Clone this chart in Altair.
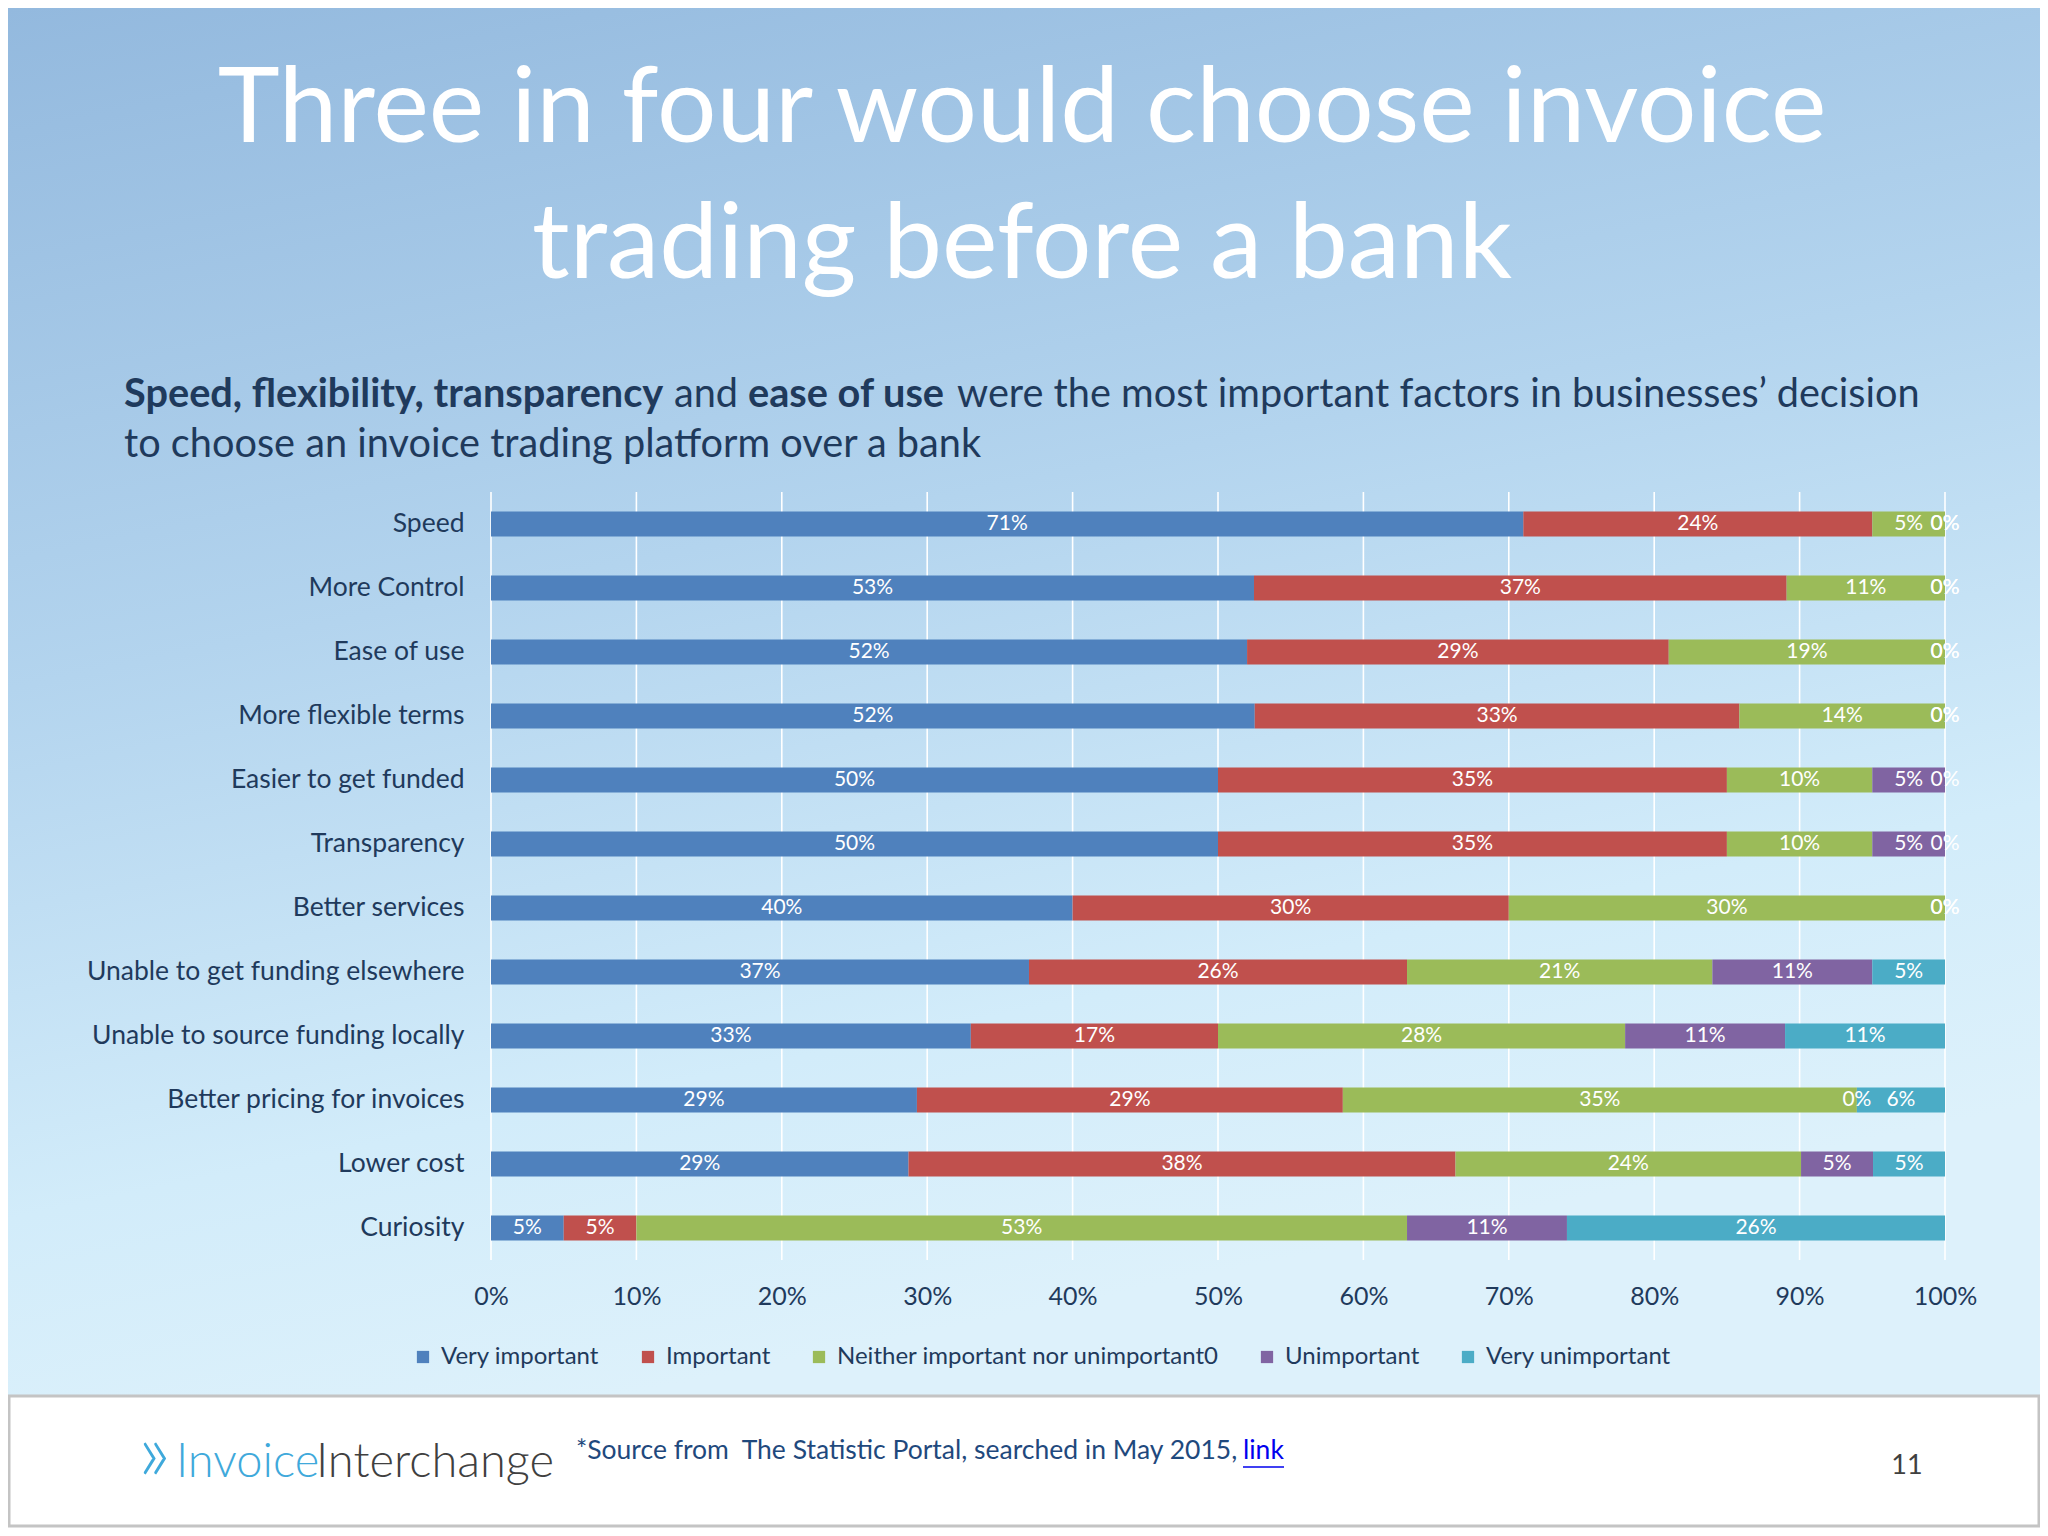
import altair as alt
import pandas as pd

# ---------------- data ----------------
categories = [
    "Speed", "More Control", "Ease of use", "More flexible terms",
    "Easier to get funded", "Transparency", "Better services",
    "Unable to get funding elsewhere", "Unable to source funding locally",
    "Better pricing for invoices", "Lower cost", "Curiosity",
]
series = [
    "Very important", "Important", "Neither important nor unimportant0",
    "Unimportant", "Very unimportant",
]
very_important   = [71, 53, 52, 52, 50, 50, 40, 37, 33, 29, 29, 5]
important        = [24, 37, 29, 33, 35, 35, 30, 26, 17, 29, 38, 5]
neither          = [5, 11, 19, 14, 10, 10, 30, 21, 28, 35, 24, 53]
unimportant      = [0, 0, 0, 0, 5, 5, 0, 11, 11, 0, 5, 11]
very_unimportant = [0, 0, 0, 0, 0, 0, 0, 5, 11, 6, 5, 26]
x_ticks = [0, 0.1, 0.2, 0.3, 0.4, 0.5, 0.6, 0.7, 0.8, 0.9, 1.0]

colors = ["#4F81BD", "#C0504D", "#9BBB59", "#8064A2", "#4BACC6"]

title_lines = ["Three in four would choose invoice", "trading before a bank"]
subtitle_pieces = [
    ("Speed, flexibility, transparency", "bold"),
    ("and", "normal"),
    ("ease of use", "bold"),
    ("were the most important factors in businesses\u2019 decision", "normal"),
]
subtitle_line2 = "to choose an invoice trading platform over a bank"
source_text = "*Source from\u00a0 The Statistic Portal, searched in May 2015,"
link_text = "link"
page_number = "11"

# ---------------- build table ----------------
values_by_series = [very_important, important, neither, unimportant, very_unimportant]
rows = []
for si, (s, vals) in enumerate(zip(series, values_by_series)):
    for c, v in zip(categories, vals):
        rows.append({"cat": c, "series": s, "order": si, "value": v})
df = pd.DataFrame(rows)

FONT = "Lato"
NAVY = "#1F3A5C"
W, H = 1454, 768
SUB = 39.7

def single(text):
    return pd.DataFrame({"t": [text]})

x_scale = alt.Scale(domain=[0, 1])
x_axis = alt.Axis(
    title="", values=x_ticks, format=".0%", grid=False, domain=False,
    ticks=False, labelFont=FONT, labelFontSize=25, labelColor=NAVY,
    labelPadding=24, zindex=2, labelFlush=False, labelOverlap=False,
)
y_scale = alt.Scale(paddingInner=0.61, paddingOuter=0.305)
y_axis = alt.Axis(
    title="", domain=False, ticks=False, labelFont=FONT, labelFontSize=26.5,
    labelColor=NAVY, labelPadding=27, zindex=2, labelLimit=600,
)

# background gradient of the slide
bg = alt.Chart(single("")).mark_rect(
    fill=alt.LinearGradient(
        gradient="linear",
        stops=[
            alt.GradientStop(color="#93B9DE", offset=0),
            alt.GradientStop(color="#B3D4EE", offset=0.45),
            alt.GradientStop(color="#D2ECFA", offset=0.8),
            alt.GradientStop(color="#DDF1FB", offset=1),
        ],
        x1=0, x2=0.3, y1=0, y2=1,
    )
).encode(
    x=alt.value(-483), x2=alt.value(1549), y=alt.value(-484), y2=alt.value(905)
)

# white footer band
footer = alt.Chart(single("")).mark_rect(
    fill="white", stroke="#C4C4C4", strokeWidth=3
).encode(
    x=alt.value(-482), x2=alt.value(1548), y=alt.value(904), y2=alt.value(1034)
)

# grid lines
grid = alt.Chart(pd.DataFrame({"tick": x_ticks})).mark_rule(
    color="white", strokeWidth=1.6
).encode(x=alt.X("tick:Q", scale=x_scale, axis=x_axis))

stacked = alt.Chart(df).transform_stack(
    stack="value", groupby=["cat"], as_=["v0", "v1"], offset="normalize",
    sort=[alt.SortField("order", "ascending")],
).transform_calculate(
    mid="(datum.v0 + datum.v1) / 2",
    label="datum.value + '%'",
)

bars = stacked.mark_bar().encode(
    x=alt.X("v0:Q", scale=x_scale, axis=x_axis),
    x2="v1:Q",
    y=alt.Y("cat:N", sort=categories, scale=y_scale, axis=y_axis),
    color=alt.Color(
        "series:N",
        scale=alt.Scale(domain=series, range=colors),
        legend=alt.Legend(
            title="", orient="none", legendX=-80, legendY=853,
            direction="horizontal", columns=5, columnPadding=36,
            symbolType="square", symbolSize=150, symbolStrokeWidth=0,
            labelFont=FONT, labelFontSize=24, labelColor=NAVY, labelOffset=6,
            labelLimit=700, zindex=2,
        ),
    ),
)

bar_labels = stacked.mark_text(
    color="white", font=FONT, fontSize=21, baseline="middle", align="center"
).encode(
    x=alt.X("mid:Q", scale=x_scale, axis=x_axis),
    y=alt.Y("cat:N", sort=categories, scale=y_scale, axis=y_axis),
    text="label:N",
)

texts = []
# title
for line, yv in zip(title_lines, [-350, -214]):
    texts.append(
        alt.Chart(single(line)).mark_text(
            font=FONT, fontSize=105, color="white", align="center",
            baseline="alphabetic",
        ).encode(x=alt.value(531), y=alt.value(yv), text="t:N")
    )
# subtitle pieces (line 1)
for (piece, weight), xv in zip(subtitle_pieces, [-367, 183, 257, 466]):
    texts.append(
        alt.Chart(single(piece)).mark_text(
            font=FONT, fontSize=SUB, color=NAVY, align="left",
            baseline="alphabetic", fontWeight=weight,
        ).encode(x=alt.value(xv), y=alt.value(-85), text="t:N")
    )
texts.append(
    alt.Chart(single(subtitle_line2)).mark_text(
        font=FONT, fontSize=SUB, color=NAVY, align="left", baseline="alphabetic",
    ).encode(x=alt.value(-367), y=alt.value(-35), text="t:N")
)
# footer logo
texts.append(
    alt.Chart(single("\u00bb")).mark_text(
        font=FONT, fontSize=82, color="#3FA9DB", align="left", baseline="middle",
        fontWeight=300,
    ).encode(x=alt.value(-353), y=alt.value(963), text="t:N")
)
texts.append(
    alt.Chart(single("Invoice")).mark_text(
        font=FONT, fontSize=47, color="#3FA9DB", align="left", baseline="middle",
        fontWeight=300,
    ).encode(x=alt.value(-315), y=alt.value(971), text="t:N")
)
texts.append(
    alt.Chart(single("Interchange")).mark_text(
        font=FONT, fontSize=47, color="#404040", align="left", baseline="middle",
        fontWeight=300,
    ).encode(x=alt.value(-175), y=alt.value(971), text="t:N")
)
# source
texts.append(
    alt.Chart(single(source_text)).mark_text(
        font=FONT, fontSize=26.5, color="#1F497D", align="left", baseline="middle",
    ).encode(x=alt.value(85), y=alt.value(959), text="t:N")
)
texts.append(
    alt.Chart(single(link_text)).mark_text(
        font=FONT, fontSize=26.5, color="#0000EE", align="left", baseline="middle",
    ).encode(x=alt.value(752), y=alt.value(959), text="t:N")
)
texts.append(
    alt.Chart(single(link_text)).mark_rule(color="#0000EE", strokeWidth=1.5).encode(
        x=alt.value(752), x2=alt.value(793), y=alt.value(975)
    )
)
texts.append(
    alt.Chart(single(page_number)).mark_text(
        font=FONT, fontSize=27, color="#404040", align="center", baseline="middle",
    ).encode(x=alt.value(1416), y=alt.value(974), text="t:N")
)

chart = alt.layer(bg, footer, grid, bars, bar_labels, *texts).properties(
    width=W, height=H,
    padding={"left": 483, "top": 484, "right": 95, "bottom": 268},
    autosize=alt.AutoSizeParams(type="none"),
    background="white",
).configure_view(stroke="transparent")

chart.save("out.html", embed_options={"renderer": "svg", "actions": False})
